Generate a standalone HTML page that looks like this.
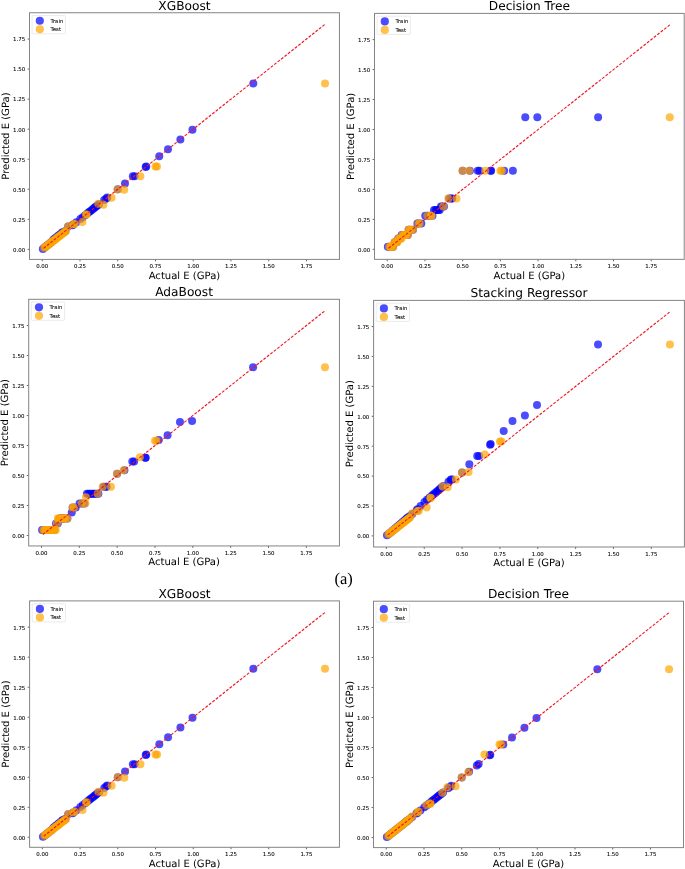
<!DOCTYPE html>
<html lang="en"><head><meta charset="utf-8"><title>Actual vs Predicted E (GPa)</title>
<style>html,body{margin:0;padding:0;background:#fff;}body{width:685px;height:869px;overflow:hidden;}svg{display:block;}text{font-family:"DejaVu Sans","Liberation Sans",sans-serif;fill:#000;text-rendering:geometricPrecision;}.tk{font-size:5.45px;fill:#000;stroke:#000;stroke-width:0.08px;}.lb{font-size:10.05px;}.tt{font-size:12.2px;}.lg{font-size:5.4px;fill:#000;stroke:#000;stroke-width:0.05px;}.cap{font-family:"Liberation Serif","DejaVu Serif",serif;font-size:16.5px;}.tr{fill:#0000ff;fill-opacity:0.7;}.te{fill:#ffa500;fill-opacity:0.7;}</style></head><body>
<svg width="685" height="869" viewBox="0 0 685 869">
<rect width="685" height="869" fill="#fff"/>
<g>
<clipPath id="c0"><rect x="29.50" y="12.75" width="309.95" height="246.65"/></clipPath>
<g clip-path="url(#c0)">
<g class="tr"><circle cx="42.85" cy="248.88" r="4.00"/><circle cx="44.58" cy="247.50" r="4.00"/><circle cx="46.32" cy="246.12" r="4.00"/><circle cx="48.05" cy="244.74" r="4.00"/><circle cx="49.79" cy="243.36" r="4.00"/><circle cx="51.53" cy="241.97" r="4.00"/><circle cx="53.26" cy="239.75" r="4.00"/><circle cx="55.00" cy="238.37" r="4.00"/><circle cx="56.74" cy="236.99" r="4.00"/><circle cx="58.47" cy="235.60" r="4.00"/><circle cx="60.21" cy="234.22" r="4.00"/><circle cx="61.94" cy="232.84" r="4.00"/><circle cx="63.68" cy="232.30" r="4.00"/><circle cx="65.42" cy="230.92" r="4.00"/><circle cx="62.77" cy="232.18" r="4.00"/><circle cx="68.06" cy="226.41" r="4.00"/><circle cx="72.44" cy="225.33" r="4.00"/><circle cx="73.34" cy="224.61" r="4.00"/><circle cx="76.36" cy="222.20" r="4.00"/><circle cx="80.29" cy="219.08" r="4.00"/><circle cx="82.70" cy="217.16" r="4.00"/><circle cx="85.12" cy="215.23" r="4.00"/><circle cx="87.53" cy="213.31" r="4.00"/><circle cx="89.04" cy="212.11" r="4.00"/><circle cx="90.55" cy="210.91" r="4.00"/><circle cx="92.06" cy="209.70" r="4.00"/><circle cx="93.57" cy="208.50" r="4.00"/><circle cx="94.78" cy="207.54" r="4.00"/><circle cx="95.99" cy="206.58" r="4.00"/><circle cx="97.50" cy="205.38" r="4.00"/><circle cx="99.01" cy="204.18" r="4.00"/><circle cx="104.14" cy="200.09" r="4.00"/><circle cx="106.26" cy="198.41" r="4.00"/><circle cx="107.31" cy="197.57" r="4.00"/><circle cx="117.73" cy="189.27" r="4.00"/><circle cx="124.98" cy="183.50" r="4.00"/><circle cx="132.83" cy="176.29" r="4.00"/><circle cx="134.64" cy="176.29" r="4.00"/><circle cx="145.66" cy="167.04" r="4.00"/><circle cx="146.26" cy="166.56" r="4.00"/><circle cx="159.25" cy="156.22" r="4.00"/><circle cx="168.00" cy="149.25" r="4.00"/><circle cx="180.38" cy="139.40" r="4.00"/><circle cx="192.46" cy="129.78" r="4.00"/><circle cx="253.30" cy="83.51" r="4.00"/></g>
<g class="te"><circle cx="44.20" cy="247.85" r="4.00"/><circle cx="45.23" cy="247.06" r="4.00"/><circle cx="46.26" cy="246.26" r="4.00"/><circle cx="47.28" cy="245.47" r="4.00"/><circle cx="48.31" cy="244.68" r="4.00"/><circle cx="49.34" cy="243.89" r="4.00"/><circle cx="50.36" cy="243.09" r="4.00"/><circle cx="51.39" cy="242.30" r="4.00"/><circle cx="52.42" cy="241.51" r="4.00"/><circle cx="53.44" cy="240.71" r="4.00"/><circle cx="54.47" cy="239.92" r="4.00"/><circle cx="55.50" cy="239.13" r="4.00"/><circle cx="56.52" cy="238.34" r="4.00"/><circle cx="57.55" cy="237.54" r="4.00"/><circle cx="58.58" cy="236.75" r="4.00"/><circle cx="59.60" cy="235.96" r="4.00"/><circle cx="60.63" cy="235.17" r="4.00"/><circle cx="61.66" cy="234.37" r="4.00"/><circle cx="62.68" cy="233.58" r="4.00"/><circle cx="63.71" cy="232.79" r="4.00"/><circle cx="64.74" cy="231.99" r="4.00"/><circle cx="65.76" cy="231.20" r="4.00"/><circle cx="68.06" cy="226.17" r="4.00"/><circle cx="73.19" cy="224.37" r="4.00"/><circle cx="74.55" cy="223.89" r="4.00"/><circle cx="82.40" cy="222.08" r="4.00"/><circle cx="86.02" cy="214.75" r="4.00"/><circle cx="86.63" cy="214.39" r="4.00"/><circle cx="98.25" cy="203.70" r="4.00"/><circle cx="103.39" cy="204.78" r="4.00"/><circle cx="111.54" cy="197.69" r="4.00"/><circle cx="117.58" cy="189.39" r="4.00"/><circle cx="124.22" cy="189.75" r="4.00"/><circle cx="140.38" cy="176.29" r="4.00"/><circle cx="155.47" cy="166.44" r="4.00"/><circle cx="156.98" cy="166.44" r="4.00"/><circle cx="325.02" cy="83.51" r="4.00"/></g>
<line x1="43.60" y1="248.28" x2="325.32" y2="24.02" stroke="#ff0000" stroke-opacity="0.05" stroke-width="1.2"/>
<line x1="43.60" y1="248.28" x2="325.32" y2="24.02" stroke="#ef1420" stroke-width="1.1" stroke-dasharray="2.8 1.6"/>
</g>
<path d="M42.24 259.40v1.9M29.50 249.36h-1.9M79.99 259.40v1.9M29.50 219.32h-1.9M117.73 259.40v1.9M29.50 189.27h-1.9M155.47 259.40v1.9M29.50 159.23h-1.9M193.22 259.40v1.9M29.50 129.18h-1.9M230.96 259.40v1.9M29.50 99.14h-1.9M268.70 259.40v1.9M29.50 69.09h-1.9M306.45 259.40v1.9M29.50 39.05h-1.9" stroke="#3c3c3c" stroke-width="0.8" fill="none"/>
<text class="tk" x="42.24" y="267.95" text-anchor="middle">0.00</text>
<text class="tk" x="25.20" y="251.71" text-anchor="end">0.00</text>
<text class="tk" x="79.99" y="267.95" text-anchor="middle">0.25</text>
<text class="tk" x="25.20" y="221.67" text-anchor="end">0.25</text>
<text class="tk" x="117.73" y="267.95" text-anchor="middle">0.50</text>
<text class="tk" x="25.20" y="191.62" text-anchor="end">0.50</text>
<text class="tk" x="155.47" y="267.95" text-anchor="middle">0.75</text>
<text class="tk" x="25.20" y="161.58" text-anchor="end">0.75</text>
<text class="tk" x="193.22" y="267.95" text-anchor="middle">1.00</text>
<text class="tk" x="25.20" y="131.53" text-anchor="end">1.00</text>
<text class="tk" x="230.96" y="267.95" text-anchor="middle">1.25</text>
<text class="tk" x="25.20" y="101.49" text-anchor="end">1.25</text>
<text class="tk" x="268.70" y="267.95" text-anchor="middle">1.50</text>
<text class="tk" x="25.20" y="71.44" text-anchor="end">1.50</text>
<text class="tk" x="306.45" y="267.95" text-anchor="middle">1.75</text>
<text class="tk" x="25.20" y="41.40" text-anchor="end">1.75</text>
<rect x="29.50" y="12.75" width="309.95" height="246.65" fill="none" stroke="#848484" stroke-width="1.0"/>
<rect x="32.10" y="15.55" width="33.3" height="18.2" rx="1" fill="#fff" fill-opacity="0.8" stroke="#cccccc" stroke-opacity="0.8" stroke-width="0.5"/>
<circle class="tr" cx="39.80" cy="20.75" r="4.1"/>
<circle class="te" cx="39.80" cy="29.25" r="4.1"/>
<text class="lg" x="50.40" y="22.65">Train</text>
<text class="lg" x="50.40" y="31.05">Test</text>
<text class="tt" x="184.47" y="9.55" text-anchor="middle">XGBoost</text>
<text class="lb" x="184.47" y="278.60" text-anchor="middle">Actual E (GPa)</text>
<text class="lb" transform="translate(8.70 136.07) rotate(-90)" text-anchor="middle">Predicted E (GPa)</text>
</g>
<g>
<clipPath id="c1"><rect x="374.50" y="13.40" width="309.70" height="245.95"/></clipPath>
<g clip-path="url(#c1)">
<g class="tr"><circle cx="387.84" cy="246.83" r="4.00"/><circle cx="389.57" cy="246.83" r="4.00"/><circle cx="391.30" cy="246.83" r="4.00"/><circle cx="393.04" cy="246.83" r="4.00"/><circle cx="394.77" cy="242.15" r="4.00"/><circle cx="396.51" cy="242.15" r="4.00"/><circle cx="398.24" cy="238.56" r="4.00"/><circle cx="399.98" cy="238.56" r="4.00"/><circle cx="401.71" cy="235.08" r="4.00"/><circle cx="403.45" cy="235.08" r="4.00"/><circle cx="405.18" cy="235.08" r="4.00"/><circle cx="406.92" cy="235.08" r="4.00"/><circle cx="408.65" cy="229.81" r="4.00"/><circle cx="410.39" cy="229.81" r="4.00"/><circle cx="407.75" cy="235.08" r="4.00"/><circle cx="413.03" cy="229.81" r="4.00"/><circle cx="417.40" cy="223.46" r="4.00"/><circle cx="418.31" cy="223.46" r="4.00"/><circle cx="421.32" cy="223.46" r="4.00"/><circle cx="425.25" cy="215.79" r="4.00"/><circle cx="427.66" cy="215.79" r="4.00"/><circle cx="430.07" cy="215.79" r="4.00"/><circle cx="432.49" cy="215.79" r="4.00"/><circle cx="434.00" cy="210.04" r="4.00"/><circle cx="435.50" cy="210.04" r="4.00"/><circle cx="437.01" cy="210.04" r="4.00"/><circle cx="438.52" cy="210.04" r="4.00"/><circle cx="439.73" cy="210.04" r="4.00"/><circle cx="440.94" cy="206.44" r="4.00"/><circle cx="442.44" cy="206.44" r="4.00"/><circle cx="443.95" cy="206.44" r="4.00"/><circle cx="449.08" cy="198.53" r="4.00"/><circle cx="451.19" cy="198.53" r="4.00"/><circle cx="452.25" cy="198.53" r="4.00"/><circle cx="462.66" cy="170.85" r="4.00"/><circle cx="469.90" cy="170.85" r="4.00"/><circle cx="477.74" cy="170.85" r="4.00"/><circle cx="479.55" cy="170.85" r="4.00"/><circle cx="490.57" cy="170.85" r="4.00"/><circle cx="491.17" cy="170.85" r="4.00"/><circle cx="504.14" cy="170.85" r="4.00"/><circle cx="512.89" cy="170.85" r="4.00"/><circle cx="525.26" cy="117.16" r="4.00"/><circle cx="537.33" cy="117.16" r="4.00"/><circle cx="598.12" cy="117.16" r="4.00"/></g>
<g class="te"><circle cx="389.19" cy="246.83" r="4.00"/><circle cx="390.22" cy="246.83" r="4.00"/><circle cx="391.24" cy="246.83" r="4.00"/><circle cx="392.27" cy="246.83" r="4.00"/><circle cx="393.30" cy="246.83" r="4.00"/><circle cx="394.32" cy="242.15" r="4.00"/><circle cx="395.35" cy="242.15" r="4.00"/><circle cx="396.37" cy="242.15" r="4.00"/><circle cx="397.40" cy="242.15" r="4.00"/><circle cx="398.43" cy="238.56" r="4.00"/><circle cx="399.45" cy="238.56" r="4.00"/><circle cx="400.48" cy="238.56" r="4.00"/><circle cx="401.50" cy="238.56" r="4.00"/><circle cx="402.53" cy="235.08" r="4.00"/><circle cx="403.55" cy="235.08" r="4.00"/><circle cx="404.58" cy="235.08" r="4.00"/><circle cx="405.61" cy="235.08" r="4.00"/><circle cx="406.63" cy="235.08" r="4.00"/><circle cx="407.66" cy="235.08" r="4.00"/><circle cx="408.68" cy="229.81" r="4.00"/><circle cx="409.71" cy="229.81" r="4.00"/><circle cx="410.73" cy="229.81" r="4.00"/><circle cx="413.03" cy="229.81" r="4.00"/><circle cx="418.16" cy="223.46" r="4.00"/><circle cx="419.51" cy="223.46" r="4.00"/><circle cx="427.36" cy="215.79" r="4.00"/><circle cx="430.98" cy="215.79" r="4.00"/><circle cx="431.58" cy="215.79" r="4.00"/><circle cx="443.20" cy="206.44" r="4.00"/><circle cx="448.33" cy="198.53" r="4.00"/><circle cx="456.47" cy="198.53" r="4.00"/><circle cx="462.51" cy="170.85" r="4.00"/><circle cx="469.14" cy="170.85" r="4.00"/><circle cx="485.29" cy="170.85" r="4.00"/><circle cx="500.37" cy="170.85" r="4.00"/><circle cx="501.88" cy="170.85" r="4.00"/><circle cx="669.78" cy="117.16" r="4.00"/></g>
<line x1="388.59" y1="248.26" x2="670.08" y2="24.64" stroke="#ff0000" stroke-opacity="0.05" stroke-width="1.2"/>
<line x1="388.59" y1="248.26" x2="670.08" y2="24.64" stroke="#ef1420" stroke-width="1.1" stroke-dasharray="2.8 1.6"/>
</g>
<path d="M387.23 259.35v1.9M374.50 249.34h-1.9M424.95 259.35v1.9M374.50 219.38h-1.9M462.66 259.35v1.9M374.50 189.42h-1.9M500.37 259.35v1.9M374.50 159.46h-1.9M538.08 259.35v1.9M374.50 129.50h-1.9M575.80 259.35v1.9M374.50 99.54h-1.9M613.51 259.35v1.9M374.50 69.58h-1.9M651.22 259.35v1.9M374.50 39.62h-1.9" stroke="#3c3c3c" stroke-width="0.8" fill="none"/>
<text class="tk" x="387.23" y="267.90" text-anchor="middle">0.00</text>
<text class="tk" x="370.20" y="251.69" text-anchor="end">0.00</text>
<text class="tk" x="424.95" y="267.90" text-anchor="middle">0.25</text>
<text class="tk" x="370.20" y="221.73" text-anchor="end">0.25</text>
<text class="tk" x="462.66" y="267.90" text-anchor="middle">0.50</text>
<text class="tk" x="370.20" y="191.77" text-anchor="end">0.50</text>
<text class="tk" x="500.37" y="267.90" text-anchor="middle">0.75</text>
<text class="tk" x="370.20" y="161.81" text-anchor="end">0.75</text>
<text class="tk" x="538.08" y="267.90" text-anchor="middle">1.00</text>
<text class="tk" x="370.20" y="131.85" text-anchor="end">1.00</text>
<text class="tk" x="575.80" y="267.90" text-anchor="middle">1.25</text>
<text class="tk" x="370.20" y="101.89" text-anchor="end">1.25</text>
<text class="tk" x="613.51" y="267.90" text-anchor="middle">1.50</text>
<text class="tk" x="370.20" y="71.93" text-anchor="end">1.50</text>
<text class="tk" x="651.22" y="267.90" text-anchor="middle">1.75</text>
<text class="tk" x="370.20" y="41.97" text-anchor="end">1.75</text>
<rect x="374.50" y="13.40" width="309.70" height="245.95" fill="none" stroke="#848484" stroke-width="1.0"/>
<rect x="377.10" y="16.20" width="33.3" height="18.2" rx="1" fill="#fff" fill-opacity="0.8" stroke="#cccccc" stroke-opacity="0.8" stroke-width="0.5"/>
<circle class="tr" cx="384.80" cy="21.40" r="4.1"/>
<circle class="te" cx="384.80" cy="29.90" r="4.1"/>
<text class="lg" x="395.40" y="23.30">Train</text>
<text class="lg" x="395.40" y="31.70">Test</text>
<text class="tt" x="529.35" y="10.20" text-anchor="middle">Decision Tree</text>
<text class="lb" x="529.35" y="278.55" text-anchor="middle">Actual E (GPa)</text>
<text class="lb" transform="translate(353.70 136.38) rotate(-90)" text-anchor="middle">Predicted E (GPa)</text>
</g>
<g>
<clipPath id="c2"><rect x="28.70" y="299.30" width="310.75" height="246.65"/></clipPath>
<g clip-path="url(#c2)">
<g class="tr"><circle cx="42.08" cy="530.02" r="4.00"/><circle cx="43.82" cy="530.02" r="4.00"/><circle cx="45.56" cy="530.02" r="4.00"/><circle cx="47.30" cy="530.02" r="4.00"/><circle cx="49.04" cy="530.02" r="4.00"/><circle cx="50.78" cy="530.02" r="4.00"/><circle cx="52.52" cy="530.02" r="4.00"/><circle cx="54.27" cy="530.02" r="4.00"/><circle cx="56.01" cy="523.54" r="4.00"/><circle cx="57.75" cy="523.54" r="4.00"/><circle cx="59.49" cy="518.38" r="4.00"/><circle cx="61.23" cy="518.38" r="4.00"/><circle cx="62.97" cy="518.38" r="4.00"/><circle cx="64.71" cy="518.38" r="4.00"/><circle cx="62.06" cy="518.38" r="4.00"/><circle cx="67.36" cy="518.38" r="4.00"/><circle cx="71.75" cy="512.50" r="4.00"/><circle cx="72.66" cy="507.58" r="4.00"/><circle cx="75.68" cy="507.58" r="4.00"/><circle cx="79.62" cy="503.50" r="4.00"/><circle cx="82.04" cy="503.50" r="4.00"/><circle cx="84.46" cy="503.50" r="4.00"/><circle cx="86.88" cy="493.78" r="4.00"/><circle cx="88.40" cy="493.78" r="4.00"/><circle cx="89.91" cy="493.78" r="4.00"/><circle cx="91.43" cy="493.78" r="4.00"/><circle cx="92.94" cy="493.78" r="4.00"/><circle cx="94.15" cy="493.78" r="4.00"/><circle cx="95.36" cy="493.78" r="4.00"/><circle cx="96.87" cy="493.78" r="4.00"/><circle cx="98.39" cy="493.78" r="4.00"/><circle cx="103.53" cy="486.76" r="4.00"/><circle cx="105.65" cy="486.76" r="4.00"/><circle cx="106.71" cy="486.76" r="4.00"/><circle cx="117.16" cy="473.74" r="4.00"/><circle cx="124.42" cy="470.26" r="4.00"/><circle cx="132.29" cy="461.50" r="4.00"/><circle cx="134.11" cy="461.50" r="4.00"/><circle cx="145.16" cy="457.66" r="4.00"/><circle cx="145.76" cy="457.66" r="4.00"/><circle cx="158.78" cy="439.90" r="4.00"/><circle cx="167.56" cy="435.22" r="4.00"/><circle cx="179.97" cy="421.91" r="4.00"/><circle cx="192.08" cy="421.07" r="4.00"/><circle cx="253.08" cy="367.19" r="4.00"/></g>
<g class="te"><circle cx="43.44" cy="530.02" r="4.00"/><circle cx="44.47" cy="530.02" r="4.00"/><circle cx="45.50" cy="530.02" r="4.00"/><circle cx="46.53" cy="530.02" r="4.00"/><circle cx="47.56" cy="530.02" r="4.00"/><circle cx="48.59" cy="530.02" r="4.00"/><circle cx="49.62" cy="530.02" r="4.00"/><circle cx="50.65" cy="530.02" r="4.00"/><circle cx="51.68" cy="530.02" r="4.00"/><circle cx="52.71" cy="530.02" r="4.00"/><circle cx="53.74" cy="530.02" r="4.00"/><circle cx="54.76" cy="530.02" r="4.00"/><circle cx="55.79" cy="530.02" r="4.00"/><circle cx="56.82" cy="523.54" r="4.00"/><circle cx="57.85" cy="518.38" r="4.00"/><circle cx="58.88" cy="518.38" r="4.00"/><circle cx="59.91" cy="518.38" r="4.00"/><circle cx="60.94" cy="518.38" r="4.00"/><circle cx="61.97" cy="518.38" r="4.00"/><circle cx="63.00" cy="518.38" r="4.00"/><circle cx="64.03" cy="518.38" r="4.00"/><circle cx="65.06" cy="518.38" r="4.00"/><circle cx="67.36" cy="518.38" r="4.00"/><circle cx="72.50" cy="507.58" r="4.00"/><circle cx="73.87" cy="507.58" r="4.00"/><circle cx="81.74" cy="503.50" r="4.00"/><circle cx="85.37" cy="503.50" r="4.00"/><circle cx="85.98" cy="497.14" r="4.00"/><circle cx="97.63" cy="493.78" r="4.00"/><circle cx="102.78" cy="486.76" r="4.00"/><circle cx="110.95" cy="486.76" r="4.00"/><circle cx="117.01" cy="473.74" r="4.00"/><circle cx="123.67" cy="470.26" r="4.00"/><circle cx="139.86" cy="457.30" r="4.00"/><circle cx="155.00" cy="440.74" r="4.00"/><circle cx="156.51" cy="440.74" r="4.00"/><circle cx="324.98" cy="367.19" r="4.00"/></g>
<line x1="42.84" y1="534.46" x2="325.28" y2="310.55" stroke="#ff0000" stroke-opacity="0.05" stroke-width="1.2"/>
<line x1="42.84" y1="534.46" x2="325.28" y2="310.55" stroke="#ef1420" stroke-width="1.1" stroke-dasharray="2.8 1.6"/>
</g>
<path d="M41.48 545.95v1.9M28.70 535.53h-1.9M79.32 545.95v1.9M28.70 505.54h-1.9M117.16 545.95v1.9M28.70 475.54h-1.9M155.00 545.95v1.9M28.70 445.54h-1.9M192.84 545.95v1.9M28.70 415.55h-1.9M230.68 545.95v1.9M28.70 385.55h-1.9M268.52 545.95v1.9M28.70 355.55h-1.9M306.36 545.95v1.9M28.70 325.55h-1.9" stroke="#3c3c3c" stroke-width="0.8" fill="none"/>
<text class="tk" x="41.48" y="554.50" text-anchor="middle">0.00</text>
<text class="tk" x="24.40" y="537.88" text-anchor="end">0.00</text>
<text class="tk" x="79.32" y="554.50" text-anchor="middle">0.25</text>
<text class="tk" x="24.40" y="507.89" text-anchor="end">0.25</text>
<text class="tk" x="117.16" y="554.50" text-anchor="middle">0.50</text>
<text class="tk" x="24.40" y="477.89" text-anchor="end">0.50</text>
<text class="tk" x="155.00" y="554.50" text-anchor="middle">0.75</text>
<text class="tk" x="24.40" y="447.89" text-anchor="end">0.75</text>
<text class="tk" x="192.84" y="554.50" text-anchor="middle">1.00</text>
<text class="tk" x="24.40" y="417.90" text-anchor="end">1.00</text>
<text class="tk" x="230.68" y="554.50" text-anchor="middle">1.25</text>
<text class="tk" x="24.40" y="387.90" text-anchor="end">1.25</text>
<text class="tk" x="268.52" y="554.50" text-anchor="middle">1.50</text>
<text class="tk" x="24.40" y="357.90" text-anchor="end">1.50</text>
<text class="tk" x="306.36" y="554.50" text-anchor="middle">1.75</text>
<text class="tk" x="24.40" y="327.90" text-anchor="end">1.75</text>
<rect x="28.70" y="299.30" width="310.75" height="246.65" fill="none" stroke="#848484" stroke-width="1.0"/>
<rect x="31.30" y="302.10" width="33.3" height="18.2" rx="1" fill="#fff" fill-opacity="0.8" stroke="#cccccc" stroke-opacity="0.8" stroke-width="0.5"/>
<circle class="tr" cx="39.00" cy="307.30" r="4.1"/>
<circle class="te" cx="39.00" cy="315.80" r="4.1"/>
<text class="lg" x="49.60" y="309.20">Train</text>
<text class="lg" x="49.60" y="317.60">Test</text>
<text class="tt" x="184.07" y="296.10" text-anchor="middle">AdaBoost</text>
<text class="lb" x="184.07" y="565.15" text-anchor="middle">Actual E (GPa)</text>
<text class="lb" transform="translate(7.90 422.62) rotate(-90)" text-anchor="middle">Predicted E (GPa)</text>
</g>
<g>
<clipPath id="c3"><rect x="373.60" y="300.40" width="310.80" height="246.60"/></clipPath>
<g clip-path="url(#c3)">
<g class="tr"><circle cx="386.98" cy="535.36" r="4.00"/><circle cx="388.72" cy="533.88" r="4.00"/><circle cx="390.46" cy="532.41" r="4.00"/><circle cx="392.21" cy="530.93" r="4.00"/><circle cx="393.95" cy="529.45" r="4.00"/><circle cx="395.69" cy="527.97" r="4.00"/><circle cx="397.43" cy="526.49" r="4.00"/><circle cx="399.17" cy="525.01" r="4.00"/><circle cx="400.91" cy="523.53" r="4.00"/><circle cx="402.65" cy="522.06" r="4.00"/><circle cx="404.39" cy="520.58" r="4.00"/><circle cx="406.13" cy="519.10" r="4.00"/><circle cx="407.87" cy="517.62" r="4.00"/><circle cx="409.62" cy="516.14" r="4.00"/><circle cx="406.97" cy="518.39" r="4.00"/><circle cx="412.26" cy="513.89" r="4.00"/><circle cx="416.65" cy="510.16" r="4.00"/><circle cx="417.56" cy="509.22" r="4.00"/><circle cx="420.59" cy="506.10" r="4.00"/><circle cx="424.53" cy="502.04" r="4.00"/><circle cx="426.95" cy="499.72" r="4.00"/><circle cx="429.37" cy="497.70" r="4.00"/><circle cx="431.79" cy="495.68" r="4.00"/><circle cx="433.31" cy="494.42" r="4.00"/><circle cx="434.82" cy="493.16" r="4.00"/><circle cx="436.34" cy="491.90" r="4.00"/><circle cx="437.85" cy="490.64" r="4.00"/><circle cx="439.06" cy="489.63" r="4.00"/><circle cx="440.27" cy="488.62" r="4.00"/><circle cx="441.79" cy="487.36" r="4.00"/><circle cx="443.30" cy="486.09" r="4.00"/><circle cx="448.45" cy="481.71" r="4.00"/><circle cx="450.57" cy="479.90" r="4.00"/><circle cx="451.63" cy="479.22" r="4.00"/><circle cx="462.07" cy="472.49" r="4.00"/><circle cx="469.34" cy="464.23" r="4.00"/><circle cx="477.21" cy="456.10" r="4.00"/><circle cx="479.03" cy="456.10" r="4.00"/><circle cx="490.08" cy="444.69" r="4.00"/><circle cx="490.68" cy="444.08" r="4.00"/><circle cx="503.70" cy="430.98" r="4.00"/><circle cx="512.48" cy="421.06" r="4.00"/><circle cx="524.90" cy="415.44" r="4.00"/><circle cx="537.01" cy="405.03" r="4.00"/><circle cx="598.02" cy="344.51" r="4.00"/></g>
<g class="te"><circle cx="388.35" cy="534.34" r="4.00"/><circle cx="389.37" cy="533.53" r="4.00"/><circle cx="390.40" cy="532.73" r="4.00"/><circle cx="391.43" cy="531.92" r="4.00"/><circle cx="392.46" cy="531.12" r="4.00"/><circle cx="393.49" cy="530.31" r="4.00"/><circle cx="394.52" cy="529.51" r="4.00"/><circle cx="395.55" cy="528.70" r="4.00"/><circle cx="396.58" cy="527.90" r="4.00"/><circle cx="397.61" cy="527.09" r="4.00"/><circle cx="398.64" cy="526.29" r="4.00"/><circle cx="399.67" cy="525.48" r="4.00"/><circle cx="400.70" cy="524.68" r="4.00"/><circle cx="401.73" cy="523.87" r="4.00"/><circle cx="402.76" cy="523.07" r="4.00"/><circle cx="403.79" cy="522.26" r="4.00"/><circle cx="404.82" cy="521.45" r="4.00"/><circle cx="405.85" cy="520.65" r="4.00"/><circle cx="406.88" cy="519.84" r="4.00"/><circle cx="407.90" cy="519.04" r="4.00"/><circle cx="408.93" cy="518.23" r="4.00"/><circle cx="409.96" cy="517.43" r="4.00"/><circle cx="412.26" cy="513.27" r="4.00"/><circle cx="417.41" cy="511.12" r="4.00"/><circle cx="418.77" cy="510.64" r="4.00"/><circle cx="426.65" cy="507.41" r="4.00"/><circle cx="430.28" cy="498.32" r="4.00"/><circle cx="430.89" cy="497.84" r="4.00"/><circle cx="442.54" cy="486.48" r="4.00"/><circle cx="447.69" cy="487.20" r="4.00"/><circle cx="455.86" cy="479.42" r="4.00"/><circle cx="461.92" cy="472.49" r="4.00"/><circle cx="468.58" cy="472.01" r="4.00"/><circle cx="484.78" cy="454.55" r="4.00"/><circle cx="499.92" cy="441.39" r="4.00"/><circle cx="501.43" cy="441.39" r="4.00"/><circle cx="669.93" cy="344.51" r="4.00"/></g>
<line x1="387.74" y1="534.80" x2="670.23" y2="311.62" stroke="#ff0000" stroke-opacity="0.05" stroke-width="1.2"/>
<line x1="387.74" y1="534.80" x2="670.23" y2="311.62" stroke="#ef1420" stroke-width="1.1" stroke-dasharray="2.8 1.6"/>
</g>
<path d="M386.38 547.00v1.9M373.60 535.88h-1.9M424.22 547.00v1.9M373.60 505.98h-1.9M462.07 547.00v1.9M373.60 476.07h-1.9M499.92 547.00v1.9M373.60 446.17h-1.9M537.77 547.00v1.9M373.60 416.27h-1.9M575.61 547.00v1.9M373.60 386.37h-1.9M613.46 547.00v1.9M373.60 356.47h-1.9M651.31 547.00v1.9M373.60 326.57h-1.9" stroke="#3c3c3c" stroke-width="0.8" fill="none"/>
<text class="tk" x="386.38" y="555.55" text-anchor="middle">0.00</text>
<text class="tk" x="369.30" y="538.23" text-anchor="end">0.00</text>
<text class="tk" x="424.22" y="555.55" text-anchor="middle">0.25</text>
<text class="tk" x="369.30" y="508.33" text-anchor="end">0.25</text>
<text class="tk" x="462.07" y="555.55" text-anchor="middle">0.50</text>
<text class="tk" x="369.30" y="478.42" text-anchor="end">0.50</text>
<text class="tk" x="499.92" y="555.55" text-anchor="middle">0.75</text>
<text class="tk" x="369.30" y="448.52" text-anchor="end">0.75</text>
<text class="tk" x="537.77" y="555.55" text-anchor="middle">1.00</text>
<text class="tk" x="369.30" y="418.62" text-anchor="end">1.00</text>
<text class="tk" x="575.61" y="555.55" text-anchor="middle">1.25</text>
<text class="tk" x="369.30" y="388.72" text-anchor="end">1.25</text>
<text class="tk" x="613.46" y="555.55" text-anchor="middle">1.50</text>
<text class="tk" x="369.30" y="358.82" text-anchor="end">1.50</text>
<text class="tk" x="651.31" y="555.55" text-anchor="middle">1.75</text>
<text class="tk" x="369.30" y="328.92" text-anchor="end">1.75</text>
<rect x="373.60" y="300.40" width="310.80" height="246.60" fill="none" stroke="#848484" stroke-width="1.0"/>
<rect x="376.20" y="303.20" width="33.3" height="18.2" rx="1" fill="#fff" fill-opacity="0.8" stroke="#cccccc" stroke-opacity="0.8" stroke-width="0.5"/>
<circle class="tr" cx="383.90" cy="308.40" r="4.1"/>
<circle class="te" cx="383.90" cy="316.90" r="4.1"/>
<text class="lg" x="394.50" y="310.30">Train</text>
<text class="lg" x="394.50" y="318.70">Test</text>
<text class="tt" x="529.00" y="297.20" text-anchor="middle">Stacking Regressor</text>
<text class="lb" x="529.00" y="566.20" text-anchor="middle">Actual E (GPa)</text>
<text class="lb" transform="translate(352.80 423.70) rotate(-90)" text-anchor="middle">Predicted E (GPa)</text>
</g>
<g>
<clipPath id="c4"><rect x="29.60" y="600.90" width="309.85" height="246.40"/></clipPath>
<g clip-path="url(#c4)">
<g class="tr"><circle cx="42.94" cy="836.79" r="4.00"/><circle cx="44.68" cy="835.41" r="4.00"/><circle cx="46.41" cy="834.03" r="4.00"/><circle cx="48.15" cy="832.65" r="4.00"/><circle cx="49.88" cy="831.27" r="4.00"/><circle cx="51.62" cy="829.89" r="4.00"/><circle cx="53.36" cy="827.67" r="4.00"/><circle cx="55.09" cy="826.29" r="4.00"/><circle cx="56.83" cy="824.91" r="4.00"/><circle cx="58.56" cy="823.53" r="4.00"/><circle cx="60.30" cy="822.15" r="4.00"/><circle cx="62.03" cy="820.77" r="4.00"/><circle cx="63.77" cy="820.23" r="4.00"/><circle cx="65.51" cy="818.85" r="4.00"/><circle cx="62.86" cy="820.11" r="4.00"/><circle cx="68.15" cy="814.34" r="4.00"/><circle cx="72.52" cy="813.26" r="4.00"/><circle cx="73.43" cy="812.54" r="4.00"/><circle cx="76.45" cy="810.14" r="4.00"/><circle cx="80.37" cy="807.02" r="4.00"/><circle cx="82.79" cy="805.10" r="4.00"/><circle cx="85.20" cy="803.18" r="4.00"/><circle cx="87.62" cy="801.26" r="4.00"/><circle cx="89.13" cy="800.06" r="4.00"/><circle cx="90.63" cy="798.86" r="4.00"/><circle cx="92.14" cy="797.66" r="4.00"/><circle cx="93.65" cy="796.45" r="4.00"/><circle cx="94.86" cy="795.49" r="4.00"/><circle cx="96.07" cy="794.53" r="4.00"/><circle cx="97.58" cy="793.33" r="4.00"/><circle cx="99.09" cy="792.13" r="4.00"/><circle cx="104.22" cy="788.05" r="4.00"/><circle cx="106.33" cy="786.37" r="4.00"/><circle cx="107.39" cy="785.53" r="4.00"/><circle cx="117.80" cy="777.24" r="4.00"/><circle cx="125.05" cy="771.48" r="4.00"/><circle cx="132.89" cy="764.28" r="4.00"/><circle cx="134.70" cy="764.28" r="4.00"/><circle cx="145.72" cy="755.03" r="4.00"/><circle cx="146.33" cy="754.55" r="4.00"/><circle cx="159.31" cy="744.23" r="4.00"/><circle cx="168.06" cy="737.26" r="4.00"/><circle cx="180.43" cy="727.42" r="4.00"/><circle cx="192.51" cy="717.81" r="4.00"/><circle cx="253.33" cy="668.83" r="4.00"/></g>
<g class="te"><circle cx="44.30" cy="835.76" r="4.00"/><circle cx="45.33" cy="834.97" r="4.00"/><circle cx="46.35" cy="834.18" r="4.00"/><circle cx="47.38" cy="833.39" r="4.00"/><circle cx="48.41" cy="832.59" r="4.00"/><circle cx="49.43" cy="831.80" r="4.00"/><circle cx="50.46" cy="831.01" r="4.00"/><circle cx="51.48" cy="830.22" r="4.00"/><circle cx="52.51" cy="829.43" r="4.00"/><circle cx="53.54" cy="828.63" r="4.00"/><circle cx="54.56" cy="827.84" r="4.00"/><circle cx="55.59" cy="827.05" r="4.00"/><circle cx="56.62" cy="826.26" r="4.00"/><circle cx="57.64" cy="825.47" r="4.00"/><circle cx="58.67" cy="824.67" r="4.00"/><circle cx="59.69" cy="823.88" r="4.00"/><circle cx="60.72" cy="823.09" r="4.00"/><circle cx="61.75" cy="822.30" r="4.00"/><circle cx="62.77" cy="821.51" r="4.00"/><circle cx="63.80" cy="820.71" r="4.00"/><circle cx="64.83" cy="819.92" r="4.00"/><circle cx="65.85" cy="819.13" r="4.00"/><circle cx="68.15" cy="814.10" r="4.00"/><circle cx="73.28" cy="812.30" r="4.00"/><circle cx="74.64" cy="811.82" r="4.00"/><circle cx="82.48" cy="810.02" r="4.00"/><circle cx="86.11" cy="802.70" r="4.00"/><circle cx="86.71" cy="802.34" r="4.00"/><circle cx="98.33" cy="791.65" r="4.00"/><circle cx="103.46" cy="792.73" r="4.00"/><circle cx="111.61" cy="785.65" r="4.00"/><circle cx="117.65" cy="777.36" r="4.00"/><circle cx="124.29" cy="777.72" r="4.00"/><circle cx="140.44" cy="764.28" r="4.00"/><circle cx="155.53" cy="754.43" r="4.00"/><circle cx="157.04" cy="754.43" r="4.00"/><circle cx="325.02" cy="668.83" r="4.00"/></g>
<line x1="43.70" y1="836.19" x2="325.32" y2="612.16" stroke="#ff0000" stroke-opacity="0.05" stroke-width="1.2"/>
<line x1="43.70" y1="836.19" x2="325.32" y2="612.16" stroke="#ef1420" stroke-width="1.1" stroke-dasharray="2.8 1.6"/>
</g>
<path d="M42.34 847.30v1.9M29.60 837.27h-1.9M80.07 847.30v1.9M29.60 807.26h-1.9M117.80 847.30v1.9M29.60 777.24h-1.9M155.53 847.30v1.9M29.60 747.23h-1.9M193.26 847.30v1.9M29.60 717.21h-1.9M230.99 847.30v1.9M29.60 687.20h-1.9M268.73 847.30v1.9M29.60 657.18h-1.9M306.46 847.30v1.9M29.60 627.17h-1.9" stroke="#3c3c3c" stroke-width="0.8" fill="none"/>
<text class="tk" x="42.34" y="855.85" text-anchor="middle">0.00</text>
<text class="tk" x="25.30" y="839.62" text-anchor="end">0.00</text>
<text class="tk" x="80.07" y="855.85" text-anchor="middle">0.25</text>
<text class="tk" x="25.30" y="809.61" text-anchor="end">0.25</text>
<text class="tk" x="117.80" y="855.85" text-anchor="middle">0.50</text>
<text class="tk" x="25.30" y="779.59" text-anchor="end">0.50</text>
<text class="tk" x="155.53" y="855.85" text-anchor="middle">0.75</text>
<text class="tk" x="25.30" y="749.58" text-anchor="end">0.75</text>
<text class="tk" x="193.26" y="855.85" text-anchor="middle">1.00</text>
<text class="tk" x="25.30" y="719.56" text-anchor="end">1.00</text>
<text class="tk" x="230.99" y="855.85" text-anchor="middle">1.25</text>
<text class="tk" x="25.30" y="689.55" text-anchor="end">1.25</text>
<text class="tk" x="268.73" y="855.85" text-anchor="middle">1.50</text>
<text class="tk" x="25.30" y="659.53" text-anchor="end">1.50</text>
<text class="tk" x="306.46" y="855.85" text-anchor="middle">1.75</text>
<text class="tk" x="25.30" y="629.52" text-anchor="end">1.75</text>
<rect x="29.60" y="600.90" width="309.85" height="246.40" fill="none" stroke="#848484" stroke-width="1.0"/>
<rect x="32.20" y="603.70" width="33.3" height="18.2" rx="1" fill="#fff" fill-opacity="0.8" stroke="#cccccc" stroke-opacity="0.8" stroke-width="0.5"/>
<circle class="tr" cx="39.90" cy="608.90" r="4.1"/>
<circle class="te" cx="39.90" cy="617.40" r="4.1"/>
<text class="lg" x="50.50" y="610.80">Train</text>
<text class="lg" x="50.50" y="619.20">Test</text>
<text class="tt" x="184.53" y="597.70" text-anchor="middle">XGBoost</text>
<text class="lb" x="184.53" y="866.50" text-anchor="middle">Actual E (GPa)</text>
<text class="lb" transform="translate(8.80 724.10) rotate(-90)" text-anchor="middle">Predicted E (GPa)</text>
</g>
<g>
<clipPath id="c5"><rect x="373.50" y="601.20" width="310.00" height="246.40"/></clipPath>
<g clip-path="url(#c5)">
<g class="tr"><circle cx="386.85" cy="837.09" r="4.00"/><circle cx="388.58" cy="835.71" r="4.00"/><circle cx="390.32" cy="834.33" r="4.00"/><circle cx="392.06" cy="832.95" r="4.00"/><circle cx="393.79" cy="831.57" r="4.00"/><circle cx="395.53" cy="830.19" r="4.00"/><circle cx="397.27" cy="828.81" r="4.00"/><circle cx="399.00" cy="827.43" r="4.00"/><circle cx="400.74" cy="826.05" r="4.00"/><circle cx="402.48" cy="824.67" r="4.00"/><circle cx="404.21" cy="823.29" r="4.00"/><circle cx="405.95" cy="821.91" r="4.00"/><circle cx="407.69" cy="820.53" r="4.00"/><circle cx="409.42" cy="819.15" r="4.00"/><circle cx="406.78" cy="821.25" r="4.00"/><circle cx="412.07" cy="817.04" r="4.00"/><circle cx="416.44" cy="813.56" r="4.00"/><circle cx="417.35" cy="812.84" r="4.00"/><circle cx="420.37" cy="810.44" r="4.00"/><circle cx="424.30" cy="807.32" r="4.00"/><circle cx="426.71" cy="805.40" r="4.00"/><circle cx="429.13" cy="803.48" r="4.00"/><circle cx="431.54" cy="801.56" r="4.00"/><circle cx="433.05" cy="800.36" r="4.00"/><circle cx="434.56" cy="799.16" r="4.00"/><circle cx="436.07" cy="797.96" r="4.00"/><circle cx="437.58" cy="796.75" r="4.00"/><circle cx="438.79" cy="795.79" r="4.00"/><circle cx="440.00" cy="794.83" r="4.00"/><circle cx="441.51" cy="793.63" r="4.00"/><circle cx="443.02" cy="792.43" r="4.00"/><circle cx="448.15" cy="788.35" r="4.00"/><circle cx="450.27" cy="786.67" r="4.00"/><circle cx="451.32" cy="785.83" r="4.00"/><circle cx="461.74" cy="777.54" r="4.00"/><circle cx="468.99" cy="771.78" r="4.00"/><circle cx="476.84" cy="765.54" r="4.00"/><circle cx="478.66" cy="764.10" r="4.00"/><circle cx="489.68" cy="755.33" r="4.00"/><circle cx="490.28" cy="754.85" r="4.00"/><circle cx="503.27" cy="744.53" r="4.00"/><circle cx="512.03" cy="737.56" r="4.00"/><circle cx="524.41" cy="727.72" r="4.00"/><circle cx="536.49" cy="718.11" r="4.00"/><circle cx="597.34" cy="669.37" r="4.00"/></g>
<g class="te"><circle cx="388.21" cy="836.01" r="4.00"/><circle cx="389.23" cy="835.20" r="4.00"/><circle cx="390.26" cy="834.38" r="4.00"/><circle cx="391.29" cy="833.56" r="4.00"/><circle cx="392.31" cy="832.75" r="4.00"/><circle cx="393.34" cy="831.93" r="4.00"/><circle cx="394.37" cy="831.12" r="4.00"/><circle cx="395.39" cy="830.30" r="4.00"/><circle cx="396.42" cy="829.48" r="4.00"/><circle cx="397.45" cy="828.67" r="4.00"/><circle cx="398.48" cy="827.85" r="4.00"/><circle cx="399.50" cy="827.03" r="4.00"/><circle cx="400.53" cy="826.22" r="4.00"/><circle cx="401.56" cy="825.40" r="4.00"/><circle cx="402.58" cy="824.58" r="4.00"/><circle cx="403.61" cy="823.77" r="4.00"/><circle cx="404.64" cy="822.95" r="4.00"/><circle cx="405.66" cy="822.14" r="4.00"/><circle cx="406.69" cy="821.32" r="4.00"/><circle cx="407.72" cy="820.50" r="4.00"/><circle cx="408.74" cy="819.69" r="4.00"/><circle cx="409.77" cy="818.87" r="4.00"/><circle cx="412.07" cy="816.56" r="4.00"/><circle cx="417.20" cy="812.36" r="4.00"/><circle cx="418.56" cy="811.40" r="4.00"/><circle cx="426.41" cy="804.92" r="4.00"/><circle cx="430.03" cy="803.72" r="4.00"/><circle cx="430.64" cy="803.48" r="4.00"/><circle cx="442.26" cy="792.67" r="4.00"/><circle cx="447.40" cy="787.27" r="4.00"/><circle cx="455.55" cy="786.19" r="4.00"/><circle cx="461.59" cy="777.54" r="4.00"/><circle cx="468.24" cy="772.14" r="4.00"/><circle cx="484.39" cy="754.49" r="4.00"/><circle cx="499.49" cy="744.53" r="4.00"/><circle cx="501.00" cy="744.53" r="4.00"/><circle cx="669.06" cy="669.37" r="4.00"/></g>
<line x1="387.60" y1="836.49" x2="669.37" y2="612.46" stroke="#ff0000" stroke-opacity="0.05" stroke-width="1.2"/>
<line x1="387.60" y1="836.49" x2="669.37" y2="612.46" stroke="#ef1420" stroke-width="1.1" stroke-dasharray="2.8 1.6"/>
</g>
<path d="M386.24 847.60v1.9M373.50 837.57h-1.9M423.99 847.60v1.9M373.50 807.56h-1.9M461.74 847.60v1.9M373.50 777.54h-1.9M499.49 847.60v1.9M373.50 747.53h-1.9M537.24 847.60v1.9M373.50 717.51h-1.9M574.99 847.60v1.9M373.50 687.50h-1.9M612.74 847.60v1.9M373.50 657.48h-1.9M650.49 847.60v1.9M373.50 627.47h-1.9" stroke="#3c3c3c" stroke-width="0.8" fill="none"/>
<text class="tk" x="386.24" y="856.15" text-anchor="middle">0.00</text>
<text class="tk" x="369.20" y="839.92" text-anchor="end">0.00</text>
<text class="tk" x="423.99" y="856.15" text-anchor="middle">0.25</text>
<text class="tk" x="369.20" y="809.91" text-anchor="end">0.25</text>
<text class="tk" x="461.74" y="856.15" text-anchor="middle">0.50</text>
<text class="tk" x="369.20" y="779.89" text-anchor="end">0.50</text>
<text class="tk" x="499.49" y="856.15" text-anchor="middle">0.75</text>
<text class="tk" x="369.20" y="749.88" text-anchor="end">0.75</text>
<text class="tk" x="537.24" y="856.15" text-anchor="middle">1.00</text>
<text class="tk" x="369.20" y="719.86" text-anchor="end">1.00</text>
<text class="tk" x="574.99" y="856.15" text-anchor="middle">1.25</text>
<text class="tk" x="369.20" y="689.85" text-anchor="end">1.25</text>
<text class="tk" x="612.74" y="856.15" text-anchor="middle">1.50</text>
<text class="tk" x="369.20" y="659.83" text-anchor="end">1.50</text>
<text class="tk" x="650.49" y="856.15" text-anchor="middle">1.75</text>
<text class="tk" x="369.20" y="629.82" text-anchor="end">1.75</text>
<rect x="373.50" y="601.20" width="310.00" height="246.40" fill="none" stroke="#848484" stroke-width="1.0"/>
<rect x="376.10" y="604.00" width="33.3" height="18.2" rx="1" fill="#fff" fill-opacity="0.8" stroke="#cccccc" stroke-opacity="0.8" stroke-width="0.5"/>
<circle class="tr" cx="383.80" cy="609.20" r="4.1"/>
<circle class="te" cx="383.80" cy="617.70" r="4.1"/>
<text class="lg" x="394.40" y="611.10">Train</text>
<text class="lg" x="394.40" y="619.50">Test</text>
<text class="tt" x="528.50" y="598.00" text-anchor="middle">Decision Tree</text>
<text class="lb" x="528.50" y="866.80" text-anchor="middle">Actual E (GPa)</text>
<text class="lb" transform="translate(352.70 724.40) rotate(-90)" text-anchor="middle">Predicted E (GPa)</text>
</g>
<text class="cap" x="343.7" y="583.6" text-anchor="middle">(a)</text>
</svg></body></html>
